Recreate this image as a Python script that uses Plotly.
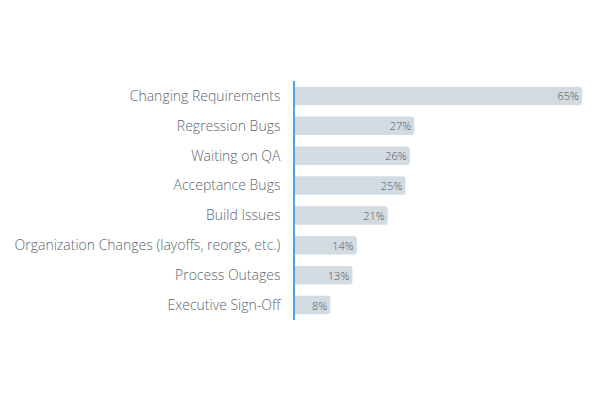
import plotly.graph_objects as go

categories = ["Changing Requirements", "Regression Bugs", "Waiting on QA", "Acceptance Bugs",
              "Build Issues", "Organization Changes (layoffs, reorgs, etc.)", "Process Outages",
              "Executive Sign-Off"]
values = [65, 27, 26, 25, 21, 14, 13, 8]

fig = go.Figure(go.Bar(
    x=values, y=categories, orientation="h",
    marker=dict(color="#d3dbe2", line=dict(width=0)),
    text=[f"{v}%" for v in values], textposition="inside", insidetextanchor="end",
    constraintext="none",
    textfont=dict(family="Open Sans", size=11, color="#4a5560"),
    width=0.62, cliponaxis=False,
))
fig.update_layout(
    width=600, height=400, paper_bgcolor="white", plot_bgcolor="white",
    margin=dict(l=287, r=26, t=73, b=88, autoexpand=False),
    showlegend=False, barcornerradius=3,
    font=dict(family="Open Sans", color="#5b6670", size=14, weight=300),
    xaxis=dict(range=[0, 65], visible=False, showgrid=False, zeroline=False, automargin=False),
    yaxis=dict(autorange="reversed", showgrid=False, zeroline=False, showline=True, automargin=False,
               linecolor="#4da3e6", linewidth=1.5, ticks="", ticklabelstandoff=10,
               tickfont=dict(family="Open Sans", size=14, color="#5b6670", weight=300)),
)
fig.write_html("out.html")
